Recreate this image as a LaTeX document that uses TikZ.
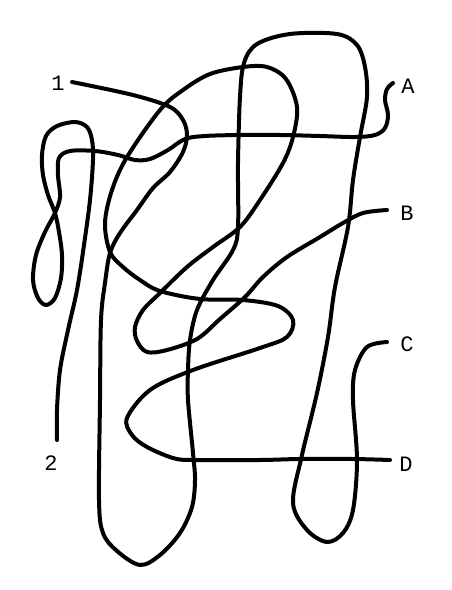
\documentclass[tikz,border=0pt]{standalone}
\usepackage{fontspec}
\setmonofont{Liberation Mono}
\begin{document}
\begin{tikzpicture}[x=1pt,y=-1pt,
	wire/.style={line width=4pt,line cap=round,line join=round},
	lbl/.style={font=\ttfamily\fontsize{22}{24}\selectfont,inner sep=0pt}]
\useasboundingbox (0,0) rectangle (451,590);
% ends of the three wires
\coordinate (a) at (393,83);
\coordinate (b) at (387,210);
\coordinate (c) at (387,342);
\coordinate (d) at (390,460);
\coordinate (one) at (72,82);
\coordinate (two) at (57,440);
\node[lbl] (lA) at (408,86) {A};
\node[lbl] (lB) at (407,213) {B};
\node[lbl] (lC) at (407,344) {C};
\node[lbl] (lD) at (406,464) {D};
\node[lbl] (l1) at (58,83) {1};
\node[lbl] (l2) at (51,463) {2};
% A to 2
\draw[wire] plot[smooth,tension=0.55] coordinates {(a) (387,89) (385,100) (388,115) (385,128)
	(375,135) (355,137) (320,136) (280,135) (240,135) (205,136) (185,139) (168,150)
	(150,159) (135,160) (118,155) (95,151) (70,151) (59,158) (58,175) (60,197) (55,213)
	(45,232) (36,255) (33,280) (38,298) (46,305) (55,298) (61,278) (62,255) (59,232)
	(55,213) (48,195) (43,175) (42,155) (46,136) (57,126) (75,122) (87,127) (92,140)
	(93,160) (90,200) (84,245) (77,290) (68,330) (60,370) (57,410) (two)};
% B to D
\draw[wire] plot[smooth,tension=0.55] coordinates {(b) (363,213) (343,223) (320,237) (287,257)
	(263,277) (245,297) (220,319) (197,339) (167,350) (147,352) (137,341) (135,327)
	(143,310) (160,293) (187,267) (213,247) (240,227) (260,200) (283,163) (293,137)
	(297,107) (286,79) (267,67) (243,67) (210,74) (183,90) (160,110) (127,157)
	(112,190) (105,223) (110,252) (123,267) (140,280) (160,291) (200,299) (243,300)
	(278,306) (293,320) (287,337) (260,348) (193,370) (150,390) (127,418) (132,435)
	(147,447) (173,458) (193,460) (260,460) (300,459) (353,459) (d)};
% 1 to C
\draw[wire] plot[smooth,tension=0.55] coordinates {(one) (133,95) (170,107) (183,120) (187,135)
	(183,152) (170,172) (153,188) (137,210) (120,233) (110,253) (105,283) (101,320)
	(100,400) (99,500) (103,533) (117,551) (140,565) (160,555) (180,533) (192,507)
	(195,480) (193,453) (188,400) (188,370) (190,340) (197,310) (213,280) (233,250)
	(238,227) (238,163) (240,97) (244,63) (257,44) (290,34) (337,34) (357,45) (365,67)
	(367,97) (360,137) (353,180) (348,227) (335,287) (328,337) (317,393) (302,455)
	(293,503) (307,530) (327,542) (343,533) (353,510) (357,460) (353,400) (355,370)
	(367,347) (c)};
\end{tikzpicture}
\end{document}
